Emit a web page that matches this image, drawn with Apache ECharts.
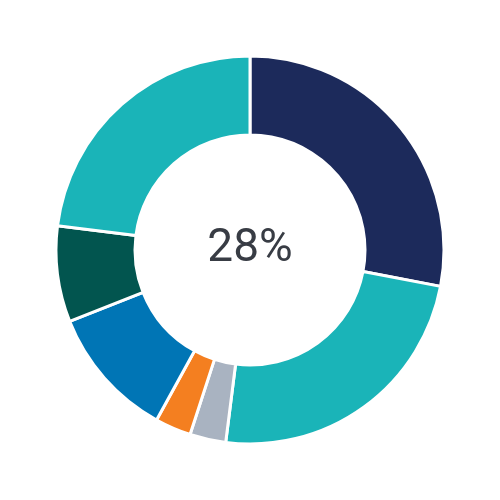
<!DOCTYPE html>
<html>
<head>
<meta charset="utf-8">
<script src="https://cdn.jsdelivr.net/npm/echarts@6/dist/echarts.min.js"></script>
<style>html,body{margin:0;padding:0;background:#fff}#c{width:500px;height:500px}</style>
</head>
<body>
<div id="c"></div>
<script>
const categories = ['A', 'B', 'C', 'D', 'E', 'F', 'G'];
const values = [28, 24, 3, 3, 11, 8, 23];
const colors = ['#1c2a5b', '#1ab4b8', '#a9b3c1', '#f47f20', '#0075b5', '#02554f', '#1ab4b8'];
const centerLabel = '28%';

const chart = echarts.init(document.getElementById('c'));
chart.setOption({
  animation: false,
  graphic: [{
    type: 'text',
    left: 'center',
    top: 226,
    style: { text: centerLabel, fontFamily: 'Roboto', fontSize: 46, fill: '#383c44' }
  }],
  series: [{
    type: 'pie',
    center: [250, 250],
    radius: [115, 194],
    startAngle: 90,
    clockwise: true,
    silent: true,
    label: { show: false },
    labelLine: { show: false },
    itemStyle: { borderColor: '#ffffff', borderWidth: 3 },
    data: categories.map((c, i) => ({ name: c, value: values[i], itemStyle: { color: colors[i] } }))
  }]
});
</script>
</body>
</html>
